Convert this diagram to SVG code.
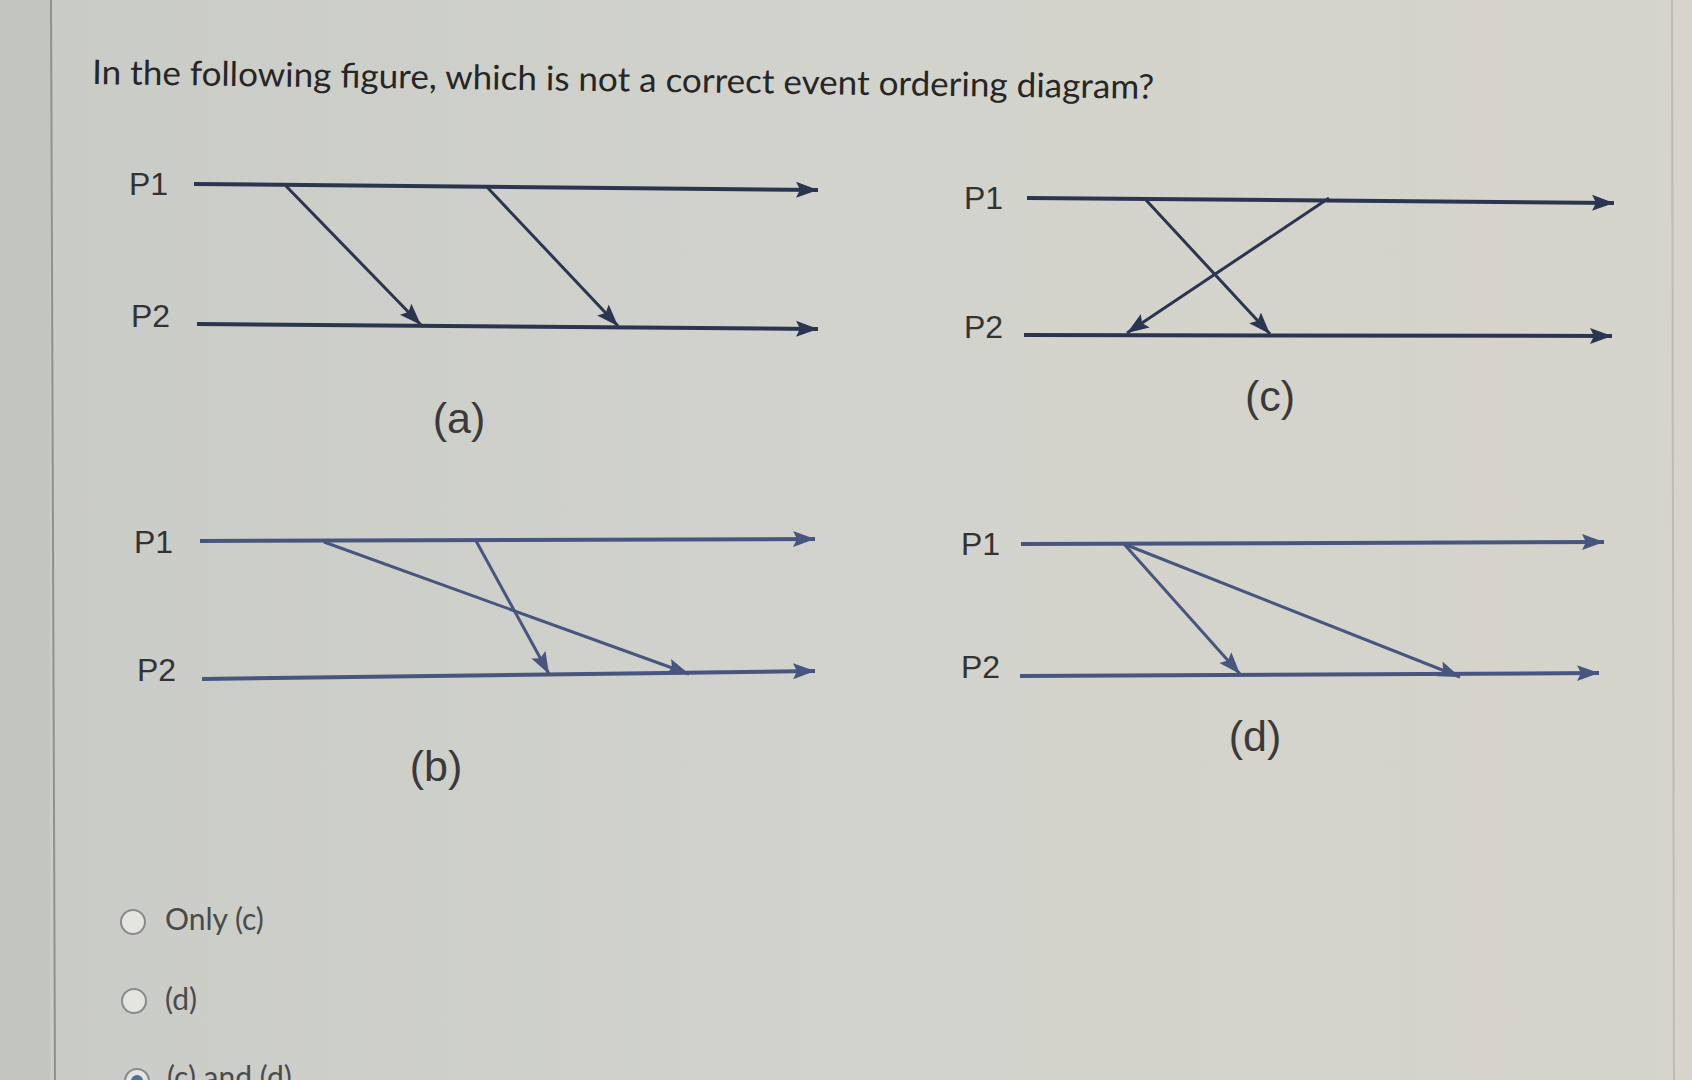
<svg xmlns="http://www.w3.org/2000/svg" width="1692" height="1080" viewBox="0 0 1692 1080">
<defs>
<linearGradient id="bg" x1="0" y1="0" x2="1" y2="0">
<stop offset="0" stop-color="#c9cbc6"/>
<stop offset="0.5" stop-color="#d2d3cd"/>
<stop offset="1" stop-color="#d6d4cb"/>
</linearGradient>
<marker id="ahA" markerUnits="userSpaceOnUse" markerWidth="24" markerHeight="18" refX="22" refY="9" orient="auto">
<path d="M0,1 L22,9 L0,17 L4,9 z" fill="#2c3550"/>
</marker>
<marker id="ahB" markerUnits="userSpaceOnUse" markerWidth="24" markerHeight="18" refX="22" refY="9" orient="auto">
<path d="M0,1 L22,9 L0,17 L4,9 z" fill="#47557f"/>
</marker>
</defs>
<style>
.ttl{font-family:Lato,"Liberation Sans",sans-serif;font-size:34px;fill:#262626}
.lbl{font-family:"Liberation Sans",Arial,sans-serif;font-size:32px;fill:#333}
.cap{font-family:"Liberation Sans",Arial,sans-serif;font-size:43px;fill:#3a3a3a;text-anchor:middle}
.opt{font-family:Lato,"Liberation Sans",sans-serif;font-size:30px;fill:#4a4a4a}
.lifeA{stroke:#2c3550;stroke-width:4;fill:none;marker-end:url(#ahA)}
.msgA{stroke:#2c3550;stroke-width:3;fill:none;marker-end:url(#ahA)}
.lifeB{stroke:#47557f;stroke-width:4;fill:none;marker-end:url(#ahB)}
.msgB{stroke:#47557f;stroke-width:3;fill:none;marker-end:url(#ahB)}
.radio{fill:#e4e4e0;stroke:#8a8a8a;stroke-width:2}
</style>
<rect x="0" y="0" width="1692" height="1080" fill="url(#bg)"/>
<rect x="0" y="0" width="50" height="1080" fill="#c3c5c0"/>
<line x1="51" y1="0" x2="55" y2="1080" stroke="#8f918c" stroke-width="2"/>
<line x1="1672" y1="0" x2="1674" y2="1080" stroke="#bdbcb4" stroke-width="2"/>

<text id="title" class="ttl" x="92" y="84" textLength="1062" lengthAdjust="spacingAndGlyphs" transform="rotate(0.8 92 84)">In the following figure, which is not a correct event ordering diagram?</text>

<g id="diagram-a">
<text class="lbl" x="129" y="195">P1</text>
<text class="lbl" x="131" y="327">P2</text>
<text class="cap" x="459" y="433">(a)</text>
</g>
<g id="diagram-c">
<text class="lbl" x="964" y="209">P1</text>
<text class="lbl" x="964" y="338">P2</text>
<text class="cap" x="1270" y="411">(c)</text>
</g>
<g id="diagram-b">
<text class="lbl" x="134" y="553">P1</text>
<text class="lbl" x="137" y="681">P2</text>
<text class="cap" x="436" y="781">(b)</text>
</g>
<g id="diagram-d">
<text class="lbl" x="961" y="555">P1</text>
<text class="lbl" x="961" y="678">P2</text>
<text class="cap" x="1255" y="751">(d)</text>
</g>

<g id="connectors">
<!-- (a) -->
<line class="lifeA" x1="194" y1="184" x2="818" y2="190"/>
<line class="lifeA" x1="197" y1="324" x2="818" y2="329"/>
<line class="msgA" x1="286" y1="186" x2="421" y2="325"/>
<line class="msgA" x1="486" y1="186" x2="618" y2="326"/>
<!-- (c) -->
<line class="lifeA" x1="1027" y1="198" x2="1614" y2="203"/>
<line class="lifeA" x1="1024" y1="335" x2="1612" y2="336"/>
<line class="msgA" x1="1146" y1="200" x2="1270" y2="334"/>
<line class="msgA" x1="1329" y1="198" x2="1127" y2="333"/>
<!-- (b) -->
<line class="lifeB" x1="200" y1="541" x2="815" y2="539"/>
<line class="lifeB" x1="202" y1="679" x2="815" y2="671"/>
<line class="msgB" x1="324" y1="542" x2="689" y2="674"/>
<line class="msgB" x1="475" y1="539" x2="549" y2="674"/>
<!-- (d) -->
<line class="lifeB" x1="1021" y1="544" x2="1604" y2="542"/>
<line class="lifeB" x1="1020" y1="676" x2="1599" y2="673"/>
<line class="msgB" x1="1124" y1="544" x2="1240" y2="674"/>
<line class="msgB" x1="1124" y1="544" x2="1460" y2="677"/>
</g>

<g id="options">
<circle class="radio" cx="133" cy="922" r="12"/>
<text class="opt" x="165" y="930">Only (c)</text>
<circle class="radio" cx="134" cy="1001" r="12"/>
<text class="opt" x="165" y="1010">(d)</text>
<circle class="radio" cx="137" cy="1081" r="12"/>
<circle cx="137" cy="1081" r="6" fill="#4a6fb0"/>
<text class="opt" x="167" y="1088">(c) and (d)</text>
</g>
</svg>
